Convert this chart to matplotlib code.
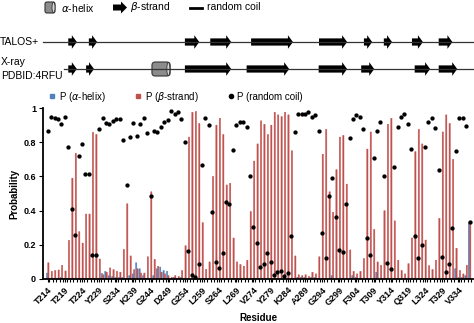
import numpy as np
import matplotlib
matplotlib.use("Agg")
from matplotlib import pyplot as plt
from matplotlib.patches import Polygon, FancyBboxPatch, Ellipse
from matplotlib.lines import Line2D

plt.rcParams['font.family'] = ['Liberation Sans', 'DejaVu Sans']

# residues 214..337
residues = np.arange(214, 338)

p_helix = [0.035, 0.005, 0.005, 0.005, 0.01, 0.005, 0.005, 0.0, 0.0, 0.005,
           0.005, 0.0, 0.0, 0.0, 0.0, 0.005, 0.033, 0.045, 0.02, 0.015,
           0.01, 0.01, 0.01, 0.005, 0.02, 0.03, 0.095, 0.06, 0.02, 0.005,
           0.005, 0.02, 0.06, 0.07, 0.05, 0.045, 0.005, 0.01, 0.005, 0.01,
           0.0, 0.0, 0.0, 0.0, 0.0, 0.0, 0.0, 0.0, 0.0, 0.0,
           0.0, 0.0, 0.0, 0.0, 0.0, 0.0, 0.0, 0.0, 0.0, 0.0,
           0.0, 0.0, 0.0, 0.0, 0.0, 0.0, 0.0, 0.0, 0.0, 0.0,
           0.0, 0.0, 0.0, 0.01, 0.01, 0.01, 0.005, 0.01, 0.01, 0.005,
           0.0, 0.0, 0.0, 0.02, 0.0, 0.0, 0.0, 0.0, 0.0, 0.02,
           0.01, 0.005, 0.0, 0.0, 0.0, 0.0, 0.04, 0.0, 0.0, 0.0,
           0.0, 0.0, 0.0, 0.0, 0.0, 0.0, 0.0, 0.0, 0.0, 0.0,
           0.0, 0.0, 0.0, 0.0, 0.0, 0.0, 0.0, 0.0, 0.0, 0.06,
           0.01, 0.01, 0.02, 0.33]

p_strand = [0.095, 0.045, 0.05, 0.053, 0.08, 0.047, 0.226, 0.59, 0.735, 0.277,
            0.21, 0.38, 0.38, 0.858, 0.846, 0.117, 0.025, 0.04, 0.065, 0.055,
            0.045, 0.04, 0.173, 0.44, 0.135, 0.055, 0.06, 0.035, 0.035, 0.13,
            0.51, 0.115, 0.075, 0.04, 0.03, 0.02, 0.01, 0.02, 0.015, 0.05,
            0.195, 0.83, 0.975, 0.98, 0.91, 0.33, 0.057, 0.1, 0.6, 0.9,
            0.94, 0.845, 0.55, 0.56, 0.24, 0.1, 0.085, 0.075, 0.11, 0.395,
            0.69, 0.79, 0.925, 0.905, 0.845, 0.9, 0.975, 0.96, 0.95, 0.975,
            0.96, 0.75, 0.135, 0.025, 0.02, 0.025, 0.015, 0.04, 0.03, 0.13,
            0.73, 0.875, 0.51, 0.39, 0.64, 0.83, 0.84, 0.555, 0.17, 0.045,
            0.03, 0.045, 0.12, 0.76, 0.86, 0.29, 0.1, 0.08, 0.4, 0.905,
            0.94, 0.34, 0.11, 0.05, 0.03, 0.09, 0.24, 0.745, 0.875, 0.79,
            0.228, 0.078, 0.056, 0.11, 0.355, 0.86, 0.96, 0.91, 0.7, 0.18,
            0.05, 0.03, 0.08, 0.33]

p_coil = [0.865, 0.95, 0.943, 0.936, 0.906, 0.95, 0.77, 0.41, 0.26, 0.72,
          0.79, 0.616, 0.616, 0.14, 0.14, 0.875, 0.943, 0.914, 0.906, 0.924,
          0.934, 0.938, 0.813, 0.55, 0.832, 0.91, 0.838, 0.906, 0.94, 0.856,
          0.485, 0.866, 0.862, 0.887, 0.918, 0.93, 0.982, 0.965, 0.978, 0.934,
          0.80, 0.164, 0.023, 0.014, 0.09, 0.667, 0.94, 0.9, 0.394, 0.10,
          0.062, 0.154, 0.448, 0.438, 0.754, 0.90, 0.916, 0.92, 0.887, 0.604,
          0.306, 0.21, 0.072, 0.09, 0.154, 0.10, 0.023, 0.04, 0.047, 0.02,
          0.037, 0.25, 0.86, 0.963, 0.965, 0.963, 0.978, 0.95, 0.96, 0.867,
          0.267, 0.125, 0.485, 0.59, 0.36, 0.17, 0.158, 0.44, 0.825, 0.934,
          0.96, 0.945, 0.875, 0.24, 0.14, 0.71, 0.865, 0.916, 0.60, 0.095,
          0.057, 0.657, 0.89, 0.945, 0.965, 0.906, 0.758, 0.25, 0.12, 0.2,
          0.77, 0.916, 0.94, 0.885, 0.64, 0.13, 0.04, 0.088, 0.296, 0.75,
          0.94, 0.943, 0.895, 0.335]

tick_res = list(range(214, 335, 5))
tick_labels = ['T214', 'T219', 'T224', 'Y229', 'S234', 'K239', 'G244', 'D249',
               'G254', 'L259', 'S264', 'L269', 'V274', 'Y279', 'K284', 'A289',
               'G294', 'G299', 'F304', 'T309', 'Y314', 'Q319', 'L324', 'T329',
               'V334']

# secondary structure elements (start, end residue)
talos_strands = [(220, 222.5), (226, 228.4), (254, 258.2), (261.4, 267.5),
                 (273.3, 285.5), (293.1, 301.3), (306.2, 308.6), (312, 314.4),
                 (320.2, 323.4), (328, 332)]
xray_strands = [(220, 222.5), (225.2, 227.5), (254, 267.5), (272, 284.4),
                (293, 301.3), (305.4, 309.2), (321, 325.5), (328, 333.4)]
xray_helices = [(244.4, 249.7)]

W, H = 474, 323
fig = plt.figure(figsize=(W / 100, H / 100), dpi=100)

xlim = (212.63, 338.0)
ax_l, ax_w = 43 / W, (473 - 43) / W
blue, red = '#4F81BD', '#C0504D'

# ---------------- main chart ----------------
ax = fig.add_axes([ax_l, 1 - 279 / H, ax_w, (279 - 108) / H])
ax.bar(residues - 0.2, p_helix, width=0.38, color=blue, ec=blue, lw=0.3, snap=False)
ax.bar(residues + 0.2, p_strand, width=0.38, color=red, ec=red, lw=0.3, snap=False)
ax.plot(residues, p_coil, 'o', color='black', ms=3.1, mew=0, clip_on=False)
ax.set_xlim(*xlim)
ax.set_ylim(0, 1)
ax.set_yticks([0, 0.2, 0.4, 0.6, 0.8, 1.0])
ax.set_yticklabels(['0', '0.2', '0.4', '0.6', '0.8', '1'], fontsize=6.5, fontweight='bold')
ax.set_xticks(tick_res)
ax.set_xticklabels(tick_labels, rotation=45, ha='right', rotation_mode='anchor',
                   fontsize=6.5, fontweight='bold')
ax.set_xticks(residues + 0.5, minor=True)
ax.tick_params(axis='x', which='both', length=2.5, width=0.8, pad=2)
ax.tick_params(axis='y', length=3, width=0.8, pad=2)
for s in ['top', 'right']:
    ax.spines[s].set_visible(False)
for s in ['left', 'bottom']:
    ax.spines[s].set_linewidth(1.3)
ax.set_ylabel('Probability', fontsize=7, fontweight='bold', labelpad=3)
ax.set_xlabel('Residue', fontsize=7, fontweight='bold', labelpad=4)

handles = [Line2D([], [], ls='none', marker='s', ms=3.5, color=blue),
           Line2D([], [], ls='none', marker='s', ms=3.5, color=red),
           Line2D([], [], ls='none', marker='o', ms=3, color='black')]
names = ['P ($\\alpha$-helix)', 'P ($\\beta$-strand)', 'P (random coil)']
ax.legend(handles, names, loc='center left', bbox_to_anchor=(0.015, 1.065), ncol=3,
          frameon=False, fontsize=7, handlelength=0.6, handletextpad=0.4,
          columnspacing=3.0, borderaxespad=0, borderpad=0)

# ---------------- secondary structure diagram ----------------
top = fig.add_axes([ax_l, 1 - 90 / H, ax_w, 90 / H])
top.set_xlim(*xlim)
top.set_ylim(90, 0)
top.axis('off')

px = (xlim[1] - xlim[0]) / (473 - 43)   # residues per pixel


def arrow(a, x0, x1, yc, body=3.6, head=6.8, hl=5.0):
    hlr = min(hl * px, (x1 - x0) * 0.8)
    xb = x1 - hlr
    pts = [(x0, yc - body), (xb, yc - body), (xb, yc - head), (x1, yc),
           (xb, yc + head), (xb, yc + body), (x0, yc + body)]
    a.add_patch(Polygon(pts, closed=True, color='black', lw=0))


def cylinder(a, x0, x1, y0, y1):
    a.add_patch(FancyBboxPatch((x0, y0), x1 - x0, y1 - y0,
                               boxstyle='round,pad=0,rounding_size=1.0',
                               mutation_aspect=(y1 - y0) / (x1 - x0) * 1.2,
                               fc='#8c8c8c', ec='#333333', lw=0.8))
    a.add_patch(Ellipse((x1 - 1.8 * px, (y0 + y1) / 2), 3 * px, (y1 - y0) * 0.95,
                        fc='#d8d8d8', ec='#333333', lw=0.6))


y_talos, y_xray = 42, 69
x_end = xlim[1] + 1 * px
top.plot([xlim[0], x_end], [y_talos, y_talos], color='#333333', lw=0.9, clip_on=False)
top.plot([xlim[0] + 21 * px, x_end], [y_xray, y_xray], color='#333333', lw=0.9, clip_on=False)
for s, e in talos_strands:
    arrow(top, s, e, y_talos)
for s, e in xray_strands:
    arrow(top, s, e, y_xray)
for s, e in xray_helices:
    cylinder(top, s, e, 62, 76)

fig.text(0 / W, 1 - 42 / H, 'TALOS+', fontsize=7.5, va='center', ha='left')
fig.text(1 / W, 1 - 62 / H, 'X-ray', fontsize=7.5, va='center', ha='left')
fig.text(1 / W, 1 - 76 / H, 'PDBID:4RFU', fontsize=7.5, va='center', ha='left')

# legend of the diagram, in pixel coordinates
lg = fig.add_axes([0, 0, 1, 1])
lg.set_xlim(0, W)
lg.set_ylim(H, 0)
lg.axis('off')
lg.add_patch(FancyBboxPatch((45, 2), 10, 11, boxstyle='round,pad=0,rounding_size=2',
                            fc='#8c8c8c', ec='#333333', lw=0.8))
lg.add_patch(Ellipse((53.5, 7.5), 3, 10.5, fc='#d8d8d8', ec='#333333', lw=0.6))
lg.text(61, 7.5, '$\\alpha$-helix', fontsize=7.5, va='center', ha='left')
lg.add_patch(Polygon([(113, 4.5), (121, 4.5), (121, 1.5), (127, 7.5), (121, 13.5),
                      (121, 10.5), (113, 10.5)], closed=True, color='black', lw=0))
lg.text(130, 7.5, '$\\beta$-strand', fontsize=7.5, va='center', ha='left')
lg.plot([190, 202], [7.5, 7.5], color='black', lw=2)
lg.text(207, 7.5, 'random coil', fontsize=7.5, va='center', ha='left')

fig.savefig('out.png', dpi=100)
